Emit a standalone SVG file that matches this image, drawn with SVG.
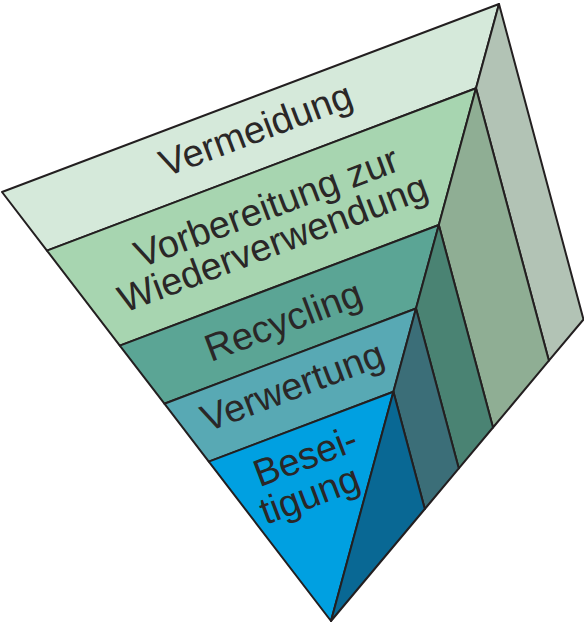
<svg xmlns="http://www.w3.org/2000/svg" width="584" height="628" viewBox="0 0 584 628">
<style>
.f{stroke:#231f20;stroke-width:2;stroke-linejoin:round}
.t{font-family:"Liberation Sans",Arial,sans-serif;font-size:38px;fill:#2a2727;text-anchor:middle}
</style>
<rect width="584" height="628" fill="#ffffff"/>
<g id="vermeidung">
<polygon class="f" fill="#d5e9da" points="2,192 499,4 476,88.3 46.95,250.6"/>
<polygon class="f" fill="#b2c3b5" points="499,4 583.5,319.5 548.9,360.7 476,88.3"/>
<text class="t" transform="translate(260.3,141.5) rotate(-20.7)">Vermeidung</text>
</g>
<g id="vorbereitung">
<polygon class="f" fill="#a7d5b0" points="46.95,250.6 476,88.3 438.8,225 119.8,345.6"/>
<polygon class="f" fill="#8fae94" points="476,88.3 548.9,360.7 493,427.5 438.8,225"/>
<text class="t" transform="translate(270.9,219) rotate(-20.7)">Vorbereitung zur</text>
<text class="t" transform="translate(277.5,255.2) rotate(-20.7)">Wiederverwendung</text>
</g>
<g id="recycling">
<polygon class="f" fill="#5ba595" points="119.8,345.6 438.8,225 416,308.5 164.4,403.7"/>
<polygon class="f" fill="#4a8373" points="438.8,225 493,427.5 458.8,468.4 416,308.5"/>
<text class="t" transform="translate(287.8,333) rotate(-20.7)">Recycling</text>
</g>
<g id="verwertung">
<polygon class="f" fill="#58a9b4" points="164.4,403.7 416,308.5 393.4,391.7 208.8,461.6"/>
<polygon class="f" fill="#3b6e78" points="416,308.5 458.8,468.4 424.8,509 393.4,391.7"/>
<text class="t" transform="translate(296.9,398.4) rotate(-20.7)">Verwertung</text>
</g>
<g id="beseitigung">
<polygon class="f" fill="#00a0e1" points="208.8,461.6 393.4,391.7 331,621"/>
<polygon class="f" fill="#096894" points="393.4,391.7 424.8,509 331,621"/>
<text class="t" transform="translate(309.8,468.3) rotate(-20.7)">Besei-</text>
<text class="t" transform="translate(314.1,506.8) rotate(-20.7)">tigung</text>
</g>
<g id="connectors"></g>
</svg>
